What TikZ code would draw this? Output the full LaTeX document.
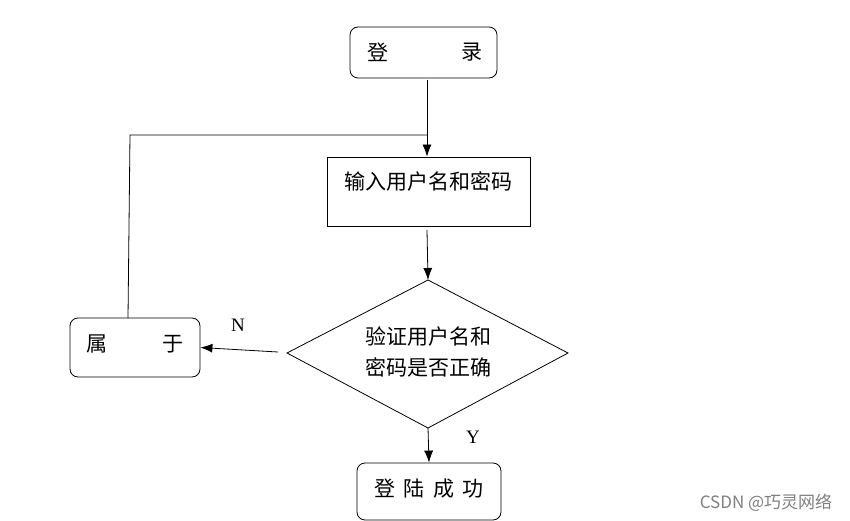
\documentclass[tikz,border=0pt]{standalone}
\usepackage{fontspec}
\setmainfont{Liberation Serif}
\newfontfamily\cjk{Noto Sans CJK SC}
\usetikzlibrary{arrows.meta}
\begin{document}
\begin{tikzpicture}[x=1pt,y=-1pt,
  box/.style={draw,line width=0.8pt,inner sep=0pt},
  rbox/.style={box,rounded corners=8pt},
  t/.style={font=\cjk\fontsize{21}{24}\selectfont,inner sep=0pt},
  arr/.style={line width=0.8pt,-{Latex[length=12pt,width=9pt]}}]
\useasboundingbox (0,0) rectangle (850,521);
\fill[white] (0,0) rectangle (850,521);
\node[rbox,minimum width=147pt,minimum height=51pt] (login) at (423.5,52.5) {};
\node[t] at (378,52) {登};
\node[t] at (472,52) {录};
\node[box,minimum width=203pt,minimum height=69pt] (input) at (428.5,191.5) {};
\node[t] at (428,181) {输入用户名和密码};
\draw[line width=0.8pt] (287,353) coordinate (dl) -- (428,280) coordinate (dt) -- (568,353) coordinate (dr) -- (428,428) coordinate (db) -- cycle;
\node[t] at (428,337) {验证用户名和};
\node[t] at (428,367) {密码是否正确};
\node[rbox,minimum width=130pt,minimum height=59pt] (belong) at (135,347.5) {};
\node[t] at (97,344) {属};
\node[t] at (173,344) {于};
\node[rbox,minimum width=144pt,minimum height=57pt] (ok) at (429,491.5) {};
\node[t] at (429,489) {登\hspace{0.4em}陆\hspace{0.4em}成\hspace{0.4em}功};
\coordinate (a1) at (427,80);
\coordinate (j) at (427,135);
\draw[arr] (a1) -- (input.north -| a1);
\coordinate (a2) at (427,230);
\draw[arr] (a2) -- (dt);
\coordinate (a3) at (278,352);
\draw[arr] (a3) -- (belong.east);
\node[font=\fontsize{19}{21}\selectfont] (N) at (238,325) {N};
\coordinate (c1) at (128,318);
\coordinate (c2) at (130,135);
\draw[line width=0.8pt] (c1) -- (c2) -- (j);
\draw[arr] (db) -- (ok.north);
\node[font=\fontsize{19}{21}\selectfont] (Y) at (473,437) {Y};
\node[font=\cjk\fontsize{17}{19}\selectfont,text=gray] (wm) at (766,503) {CSDN @巧灵网络};
\end{tikzpicture}
\end{document}
